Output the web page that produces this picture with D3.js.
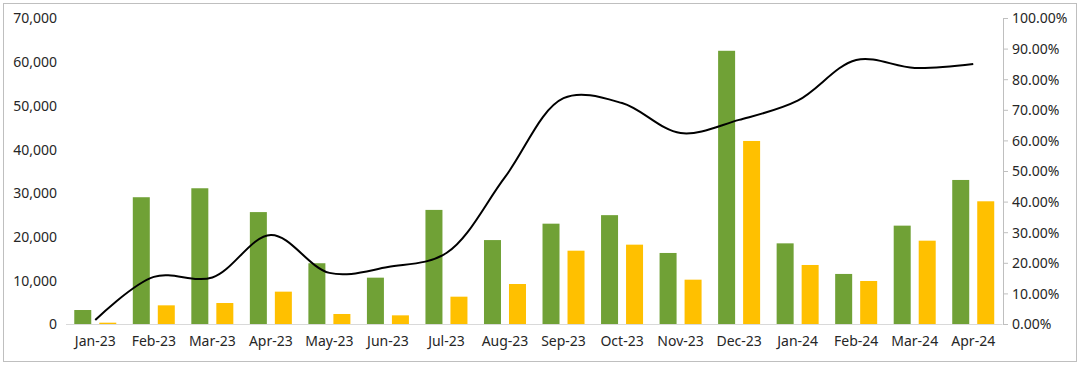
<!DOCTYPE html>
<html>
<head>
<meta charset="utf-8">
<script src="https://cdn.jsdelivr.net/npm/d3@7"></script>
<style>
  html, body { margin: 0; padding: 0; background: #fff; }
  svg { display: block; }
  text { font-family: "Noto Sans", "Open Sans", sans-serif; fill: #262626; }
</style>
</head>
<body>
<script>
const months = ["Jan-23","Feb-23","Mar-23","Apr-23","May-23","Jun-23","Jul-23","Aug-23","Sep-23","Oct-23","Nov-23","Dec-23","Jan-24","Feb-24","Mar-24","Apr-24"];
const greenValues = [3200, 29000, 31050, 25600, 13900, 10600, 26100, 19200, 22950, 24900, 16250, 62500, 18450, 11450, 22500, 32950];
const yellowValues = [300, 4270, 4800, 7400, 2290, 1980, 6250, 9150, 16770, 18150, 10140, 41870, 13500, 9840, 19060, 28070];
const ratioValues = [0.013, 0.154, 0.152, 0.291, 0.167, 0.186, 0.232, 0.48, 0.738, 0.722, 0.624, 0.667, 0.73, 0.863, 0.837, 0.85];
const leftTicks = [0, 10000, 20000, 30000, 40000, 50000, 60000, 70000];
const rightTicks = [0, 0.1, 0.2, 0.3, 0.4, 0.5, 0.6, 0.7, 0.8, 0.9, 1.0];

const W = 1080, H = 365;
const svg = d3.select("body").append("svg").attr("width", W).attr("height", H);

svg.append("rect").attr("x", 3.5).attr("y", 3.5).attr("width", 1073).attr("height", 358)
  .attr("fill", "#fff").attr("stroke", "#bfbfbf").attr("stroke-width", 1);

const plotL = 66, plotR = 1002.5, plotT = 18, plotB = 324;

const x = d3.scaleBand().domain(months).range([plotL, plotR]).padding(0);
const sub = d3.scaleBand().domain(["g","y"]).range([-21, 21]).paddingInner(0.32).paddingOuter(0);
const yL = d3.scaleLinear().domain([0, 70000]).range([plotB, plotT]);
const yR = d3.scaleLinear().domain([0, 1]).range([plotB, plotT]);

// baseline
svg.append("line").attr("x1", plotL).attr("x2", plotR).attr("y1", plotB + 0.5).attr("y2", plotB + 0.5)
  .attr("stroke", "#d9d9d9").attr("stroke-width", 1);

// bars
const cx = m => x(m) + x.bandwidth() / 2;
svg.append("g").selectAll("rect").data(months).join("rect")
  .attr("x", m => cx(m) + sub("g"))
  .attr("width", sub.bandwidth())
  .attr("y", (m, i) => yL(greenValues[i]))
  .attr("height", (m, i) => plotB - yL(greenValues[i]))
  .attr("fill", "#70A136");
svg.append("g").selectAll("rect").data(months).join("rect")
  .attr("x", m => cx(m) + sub("y"))
  .attr("width", sub.bandwidth())
  .attr("y", (m, i) => yL(yellowValues[i]))
  .attr("height", (m, i) => plotB - yL(yellowValues[i]))
  .attr("fill", "#FFC000");

// line
const line = d3.line().x((d, i) => cx(months[i])).y(d => yR(d)).curve(d3.curveCatmullRom.alpha(0.5));
svg.append("path").datum(ratioValues).attr("d", line)
  .attr("fill", "none").attr("stroke", "#000").attr("stroke-width", 2);

// left axis
const fmt = d3.format(",");
const gl = svg.append("g").attr("transform", `translate(57,0)`)
  .call(d3.axisLeft(yL).tickValues(leftTicks).tickFormat(fmt).tickSize(0).tickPadding(0));
gl.select(".domain").remove();
gl.selectAll("text").attr("font-size", 14).attr("dy", "0.35em").style("font-family", "'Noto Sans', sans-serif").attr("fill", "#262626");

// right axis
const gr = svg.append("g").attr("transform", `translate(${plotR + 0.5},0)`)
  .call(d3.axisRight(yR).tickValues(rightTicks).tickFormat(d3.format(".2%")).tickSize(5).tickSizeOuter(0).tickPadding(4));
gr.select(".domain").attr("stroke", "#bfbfbf");
gr.selectAll(".tick line").attr("stroke", "#bfbfbf");
gr.selectAll("text").attr("font-size", 14).attr("dy", "0.35em").style("font-family", "'Noto Sans', sans-serif").attr("fill", "#262626");

// bottom axis
const gb = svg.append("g").attr("transform", `translate(0,${plotB})`)
  .call(d3.axisBottom(x).tickSize(0).tickPadding(12));
gb.select(".domain").remove();
gb.selectAll("text").attr("font-size", 14).style("font-family", "'Noto Sans', sans-serif").attr("fill", "#262626");
</script>
</body>
</html>
